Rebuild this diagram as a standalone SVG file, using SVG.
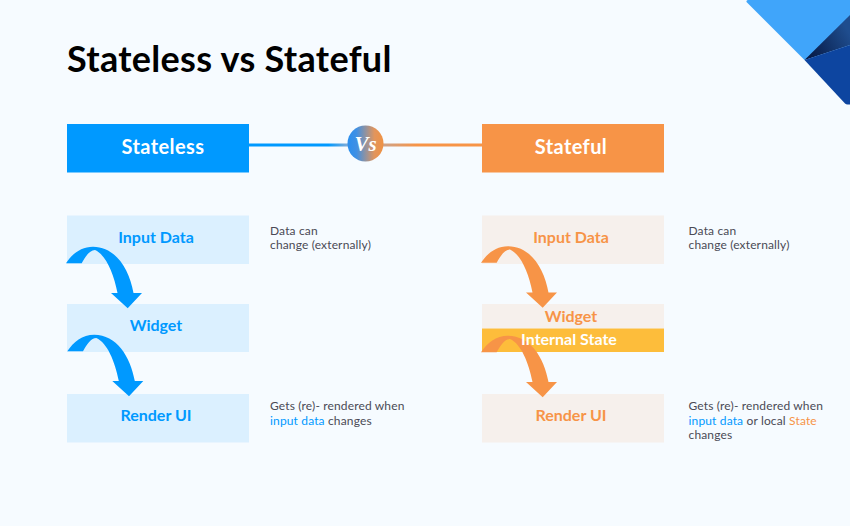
<svg xmlns="http://www.w3.org/2000/svg" width="850" height="526" viewBox="0 0 850 526">
<style>
text{font-family:"Lato","Noto Sans",sans-serif}
.t{font-size:16px;font-weight:700;text-anchor:middle}
.h{font-size:20px;font-weight:700;text-anchor:middle;fill:#fff;letter-spacing:.4px}
.n{font-size:12px;fill:#4a4a55;letter-spacing:.15px}
.b{fill:#0099ff}
.o{fill:#f79447}
.lb{fill:#dbf0ff}
.lo{fill:#f6f0ec}
</style>
<defs>
<linearGradient id="lineG" gradientUnits="userSpaceOnUse" x1="249" y1="0" x2="482" y2="0">
<stop offset="0" stop-color="#0099ff"/><stop offset=".34" stop-color="#0099ff"/><stop offset=".42" stop-color="#7aaad8"/><stop offset=".58" stop-color="#cfa287"/><stop offset=".72" stop-color="#f79447"/><stop offset="1" stop-color="#f79447"/>
</linearGradient>
<linearGradient id="vsG" x1="0" y1="0" x2="1" y2="0">
<stop offset="0" stop-color="#2a8fef"/><stop offset=".25" stop-color="#3f90e4"/><stop offset=".75" stop-color="#e2955c"/><stop offset="1" stop-color="#f09243"/>
</linearGradient>
<linearGradient id="cornerG" gradientUnits="userSpaceOnUse" x1="805" y1="60" x2="850" y2="35">
<stop offset="0" stop-color="#04153f"/><stop offset="1" stop-color="#1f4d8e"/>
</linearGradient>
<path id="arrow" d="M66 263.300C72 254 81 246.700 93 246.700C115 246.700 129 268 133.500 293H142L127.700 308.300L111 293H117.500C113.500 273 106 255 95 250C90 250 85.500 256 81.700 263.300Z"/>
</defs>
<rect id="background" width="850" height="526" fill="#f6fbff"/>
<g id="corner">
<path d="M746.500 2Q746 0 748.500 0H850V45L804.500 60Z" fill="#40a5fa"/>
<path d="M804.500 60L850 15V45Z" fill="url(#cornerG)"/>
<path d="M804.500 60L850 45V104.500H847.500Q846 104.500 845 103.500Z" fill="#0d45a0"/>
</g>
<text id="title" x="67" y="71.500" font-size="36" font-weight="700" fill="#000" letter-spacing=".3">Stateless vs Stateful</text>
<g id="connector-line">
<rect x="249" y="143.500" width="233" height="3" fill="url(#lineG)"/>
</g>
<g id="head-stateless"><rect x="67" y="124" width="182" height="48.500" class="b"/><text x="163" y="153.500" class="h">Stateless</text></g>
<g id="vs"><circle cx="365.500" cy="143.500" r="18" fill="url(#vsG)"/><text x="365.500" y="150.500" font-size="21" font-weight="700" font-style="italic" fill="#fff" text-anchor="middle" style="font-family:'Liberation Serif',serif">Vs</text></g>
<g id="head-stateful"><rect x="482" y="124" width="182" height="48.500" class="o"/><text x="571" y="153.500" class="h">Stateful</text></g>
<g id="input-stateless"><rect x="67" y="215.500" width="182" height="48.500" class="lb"/><text x="156" y="242.500" class="t" fill="#0099ff">Input Data</text></g>
<g id="widget-stateless"><rect x="67" y="304" width="182" height="48" class="lb"/><text x="156" y="330.500" class="t" fill="#0099ff">Widget</text></g>
<g id="render-stateless"><rect x="67" y="394" width="182" height="48.500" class="lb"/><text x="156" y="420.500" class="t" fill="#0099ff">Render UI</text></g>
<g id="input-stateful"><rect x="482" y="215.500" width="182" height="48.500" class="lo"/><text x="571" y="242.500" class="t" fill="#f79447">Input Data</text></g>
<g id="widget-stateful"><rect x="482" y="304" width="182" height="24.500" class="lo"/><text x="571" y="322" class="t" fill="#f79447">Widget</text></g>
<g id="state-stateful"><rect x="482" y="328.500" width="182" height="23.500" fill="#fdbd3b"/></g>
<g id="render-stateful"><rect x="482" y="394" width="182" height="48.500" class="lo"/><text x="571" y="420.500" class="t" fill="#f79447">Render UI</text></g>
<g id="connectors">
<use href="#arrow" class="b"/>
<use href="#arrow" class="b" transform="translate(1.300 88)"/>
<use href="#arrow" class="o" transform="translate(415 -0.500)"/>
<use href="#arrow" class="o" transform="translate(415 89)"/>
</g>
<text id="state-label" x="569" y="345" class="t" fill="#fff">Internal State</text>
<g id="notes">
<text class="n" x="270" y="235">Data can</text><text class="n" x="270" y="249">change (externally)</text>
<text class="n" x="270" y="410">Gets (re)- rendered when</text>
<text class="n" x="270" y="425"><tspan fill="#0099ff">input data</tspan> changes</text>
<text class="n" x="688.500" y="235">Data can</text><text class="n" x="688.500" y="249">change (externally)</text>
<text class="n" x="688.500" y="410">Gets (re)- rendered when</text>
<text class="n" x="688.500" y="425"><tspan fill="#0099ff">input data</tspan> or local <tspan fill="#f79447">State</tspan></text>
<text class="n" x="688.500" y="439">changes</text>
</g>
</svg>
